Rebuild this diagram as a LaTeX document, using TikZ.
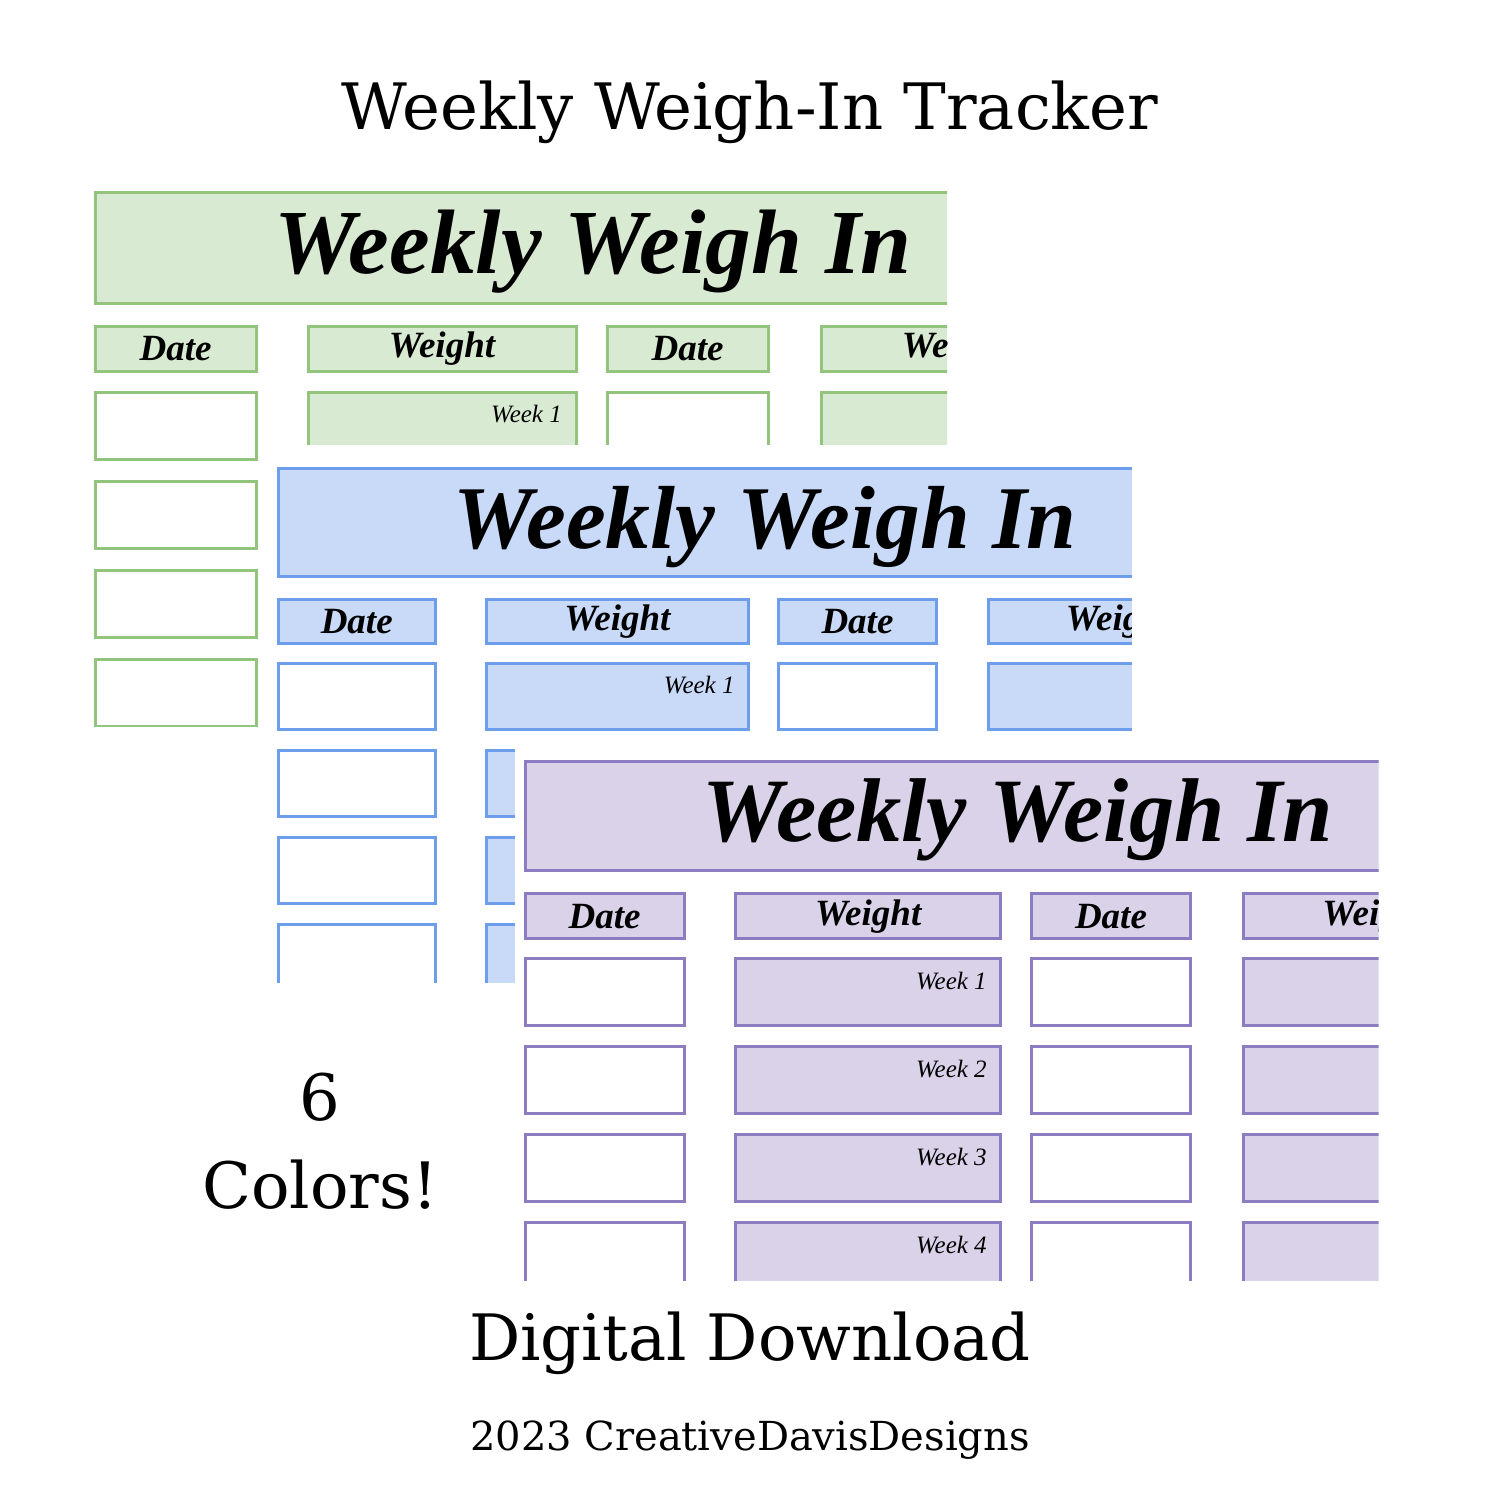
\documentclass[tikz,border=0pt]{standalone}
\usepackage{fontspec}
\usepackage{graphicx}
\setmainfont{DejaVu Serif}
\newfontfamily\pf{Liberation Serif}
\definecolor{gF}{HTML}{D9EAD3}\definecolor{gD}{HTML}{93C47D}
\definecolor{bF}{HTML}{C9DAF8}\definecolor{bD}{HTML}{6D9EEB}
\definecolor{pF}{HTML}{D9D2E9}\definecolor{pD}{HTML}{8E7CC3}
\tikzset{cellw/.style={draw=#1,line width=3pt,fill=white},
 cellf/.style={draw=#1,line width=3pt},
 hdr/.style={font=\pf\bfseries\itshape\fontsize{37}{40}\selectfont,inner sep=0pt},
 wk/.style={font=\pf\itshape\fontsize{25}{28}\selectfont,inner sep=0pt,anchor=east}}
\newcommand\wpanel[8]{%
\begin{scope}[shift={(#1,#2)},scale=#7]
\begin{scope}
\clip (-10,-24) rectangle (#8,#5);
\fill[white] (-10,-24) rectangle (#8,#5);
\fill[#3] (0,0) rectangle (#8,111);
\draw[#4,line width=3pt] (0,0) rectangle (900,111);
\node[inner sep=0pt,anchor=east] (t#1) at (817,60) {\resizebox{#7\dimexpr 637pt\relax}{!}{\pf\bfseries\itshape Weekly Weigh In}};
\foreach \a/\b/\l in {0/161/Date,213/481/Weight,512/673/Date,726/994/Weight}{
  \draw[cellf=#4,fill=#3] (\a,134) rectangle (\b,179);
  \node[hdr] at ({(\a+\b)/2},157) {\l};}
\foreach \i in {1,...,#6}{
  \pgfmathsetmacro\yt{200+(\i-1)*89}
  \draw[cellw=#4] (0,\yt) rectangle (161,\yt+67);
  \draw[cellf=#4,fill=#3] (213,\yt) rectangle (481,\yt+67);
  \node[wk] at (467,\yt+22) {Week \i};
  \draw[cellw=#4] (512,\yt) rectangle (673,\yt+67);
  \draw[cellf=#4,fill=#3] (726,\yt) rectangle (994,\yt+67);}
\end{scope}
\end{scope}}
\begin{document}
\begin{tikzpicture}[x=1pt,y=-1pt]
\useasboundingbox[fill=white] (0,0) rectangle (1500,1500);
\node (title) at (750,112) {\fontsize{64}{70}\selectfont Weekly Weigh-In Tracker};
\wpanel{95}{192}{gF}{gD}{534}{4}{1}{852}
\wpanel{278}{468}{bF}{bD}{526}{4}{0.978}{873}
\wpanel{525}{761}{pF}{pD}{525}{4}{0.989}{863}
\node (six) at (320,1097) {\fontsize{64}{70}\selectfont 6};
\node (col) at (320,1185) {\fontsize{64}{70}\selectfont Colors!};
\node (dd) at (750,1343) {\fontsize{64}{70}\selectfont Digital Download};
\node (cr) at (750,1440) {\fontsize{40}{44}\selectfont 2023 CreativeDavisDesigns};
\end{tikzpicture}
\end{document}
